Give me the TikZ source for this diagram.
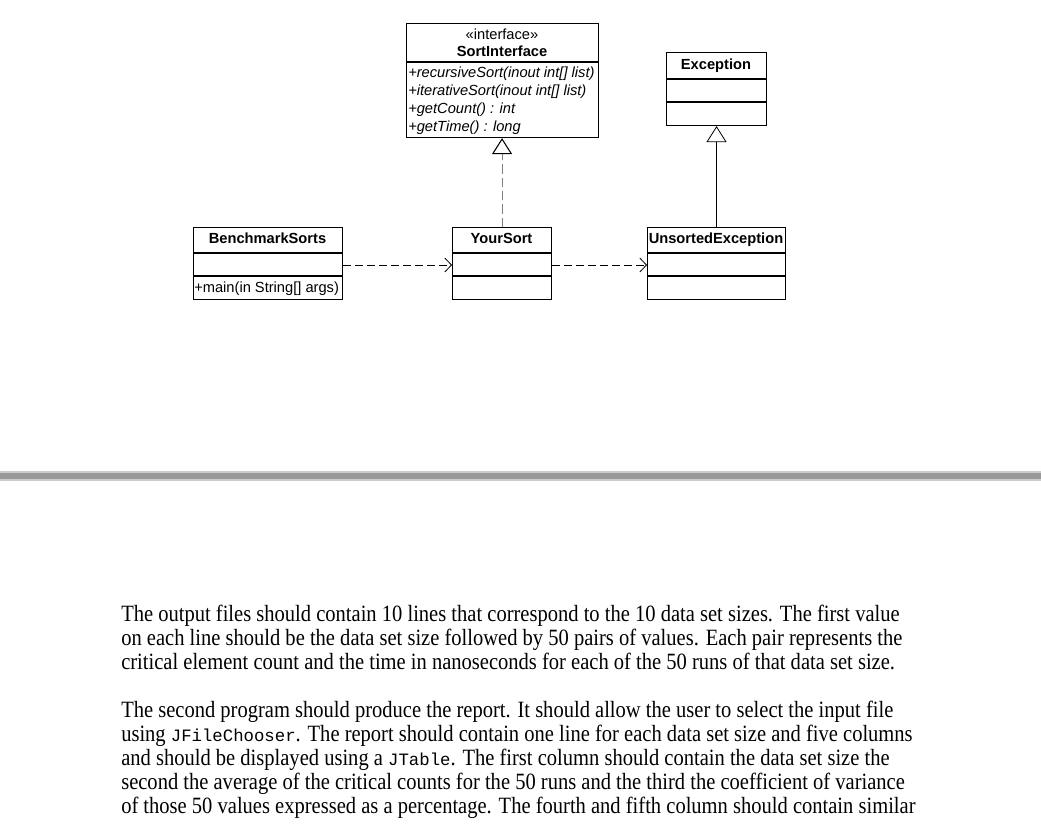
\documentclass[tikz,border=0pt]{standalone}
\usepackage{fontspec}
\setmainfont{Liberation Serif}[FakeStretch=0.88]
\setsansfont{Liberation Sans}
\setmonofont{Liberation Mono}
\usetikzlibrary{arrows.meta, calc}
\definecolor{barGray}{HTML}{999999}
\definecolor{barEdge}{HTML}{CCCCCC}
\definecolor{lineGray}{HTML}{808080}

\tikzset{
  classbox/.style={draw, line width=0.8pt, inner sep=0pt, anchor=north west},
  umlname/.style={font=\sffamily\bfseries\fontsize{11}{13}\selectfont, inner sep=0pt,
    text height=8.2pt, text depth=2.2pt},
  umlop/.style={font=\sffamily\fontsize{11}{13}\selectfont, inner sep=0pt, anchor=west,
    text height=8.2pt, text depth=2.2pt},
  depend/.style={dash pattern=on 6pt off 3pt, line width=0.6pt,
    -{Straight Barb[length=5pt, width=10.5pt]}},
  realize/.style={lineGray, dash pattern=on 7pt off 3pt, line width=0.8pt,
    -{Triangle[length=12pt, width=15pt, fill=white, color=black]}},
  inherit/.style={line width=0.6pt, -{Triangle[length=12pt, width=15pt, fill=white]}},
  bodyline/.style={anchor=base west, inner sep=0pt, font=\fontsize{17.5}{18}\selectfont}
}
\newcommand{\codeword}[1]{{\ttfamily\fontsize{13}{14}\selectfont #1}}

\begin{document}
\begin{tikzpicture}[x=0.75pt, y=-0.75pt]
  \useasboundingbox (0,0) rectangle (1041,825);

  % interface
  \node[classbox, minimum width=144pt, minimum height=85.5pt] (si) at (406,23) {};
  \node[umlop, anchor=center] (sist) at (502,35) {«interface»};
  \node[umlname] (siname) at (502,52) {SortInterface};
  \draw[line width=0.8pt] (si.north west) ++(0,39) -- ++(192,0);
  \node[umlop, font=\sffamily\itshape\fontsize{11}{13}\selectfont] (op1) at (408,73) {+recursiveSort(inout int[] list)};
  \node[umlop, font=\sffamily\itshape\fontsize{11}{13}\selectfont] (op2) at (408,91) {+iterativeSort(inout int[] list)};
  \node[umlop, font=\sffamily\itshape\fontsize{11}{13}\selectfont] (op3) at (408,109) {+getCount() : int};
  \node[umlop, font=\sffamily\itshape\fontsize{11}{13}\selectfont] (op4) at (408,127) {+getTime() : long};

  % Exception
  \node[classbox, minimum width=75pt, minimum height=54.75pt] (exc) at (666,52) {};
  \node[umlname] (excname) at (716,65) {Exception};
  \draw[line width=0.8pt] (exc.north west) ++(0,27) -- ++(100,0);
  \draw[line width=0.8pt] (exc.north west) ++(0,50) -- ++(100,0);

  % BenchmarkSorts
  \node[classbox, minimum width=111.75pt, minimum height=54pt] (bench) at (193,227) {};
  \node[umlname] (benchname) at (267.5,239) {BenchmarkSorts};
  \draw[line width=0.8pt] (bench.north west) ++(0,26) -- ++(149,0);
  \draw[line width=0.8pt] (bench.north west) ++(0,49) -- ++(149,0);
  \node[umlop] (mainop) at (194,288) {+main(in String[] args)};

  % YourSort
  \node[classbox, minimum width=74.25pt, minimum height=54pt] (your) at (452,227) {};
  \node[umlname] (yourname) at (501.5,239) {YourSort};
  \draw[line width=0.8pt] (your.north west) ++(0,26) -- ++(99,0);
  \draw[line width=0.8pt] (your.north west) ++(0,49) -- ++(99,0);

  % UnsortedException
  \node[classbox, minimum width=103.5pt, minimum height=54pt] (unsorted) at (647,227) {};
  \node[umlname] (unsname) at (716,239) {UnsortedException};
  \draw[line width=0.8pt] (unsorted.north west) ++(0,26) -- ++(138,0);
  \draw[line width=0.8pt] (unsorted.north west) ++(0,49) -- ++(138,0);

  % relations
  \draw[depend] (bench.east |- 0,265) -- (your.west |- 0,265);
  \draw[depend] (your.east |- 0,265) -- (unsorted.west |- 0,265);
  \draw[realize] (your.north) -- (si.south -| your.north);
  \draw[inherit] (unsorted.north -| exc.south) -- (exc.south);

  % separator bar
  \fill[barEdge] (0,471) rectangle (1041,481);
  \fill[barGray] (0,473) rectangle (1041,479);

  % body text
  \node[bodyline] (l1) at (121,621) {The output files should contain 10 lines that correspond to the 10 data set sizes. The first value};
  \node[bodyline] (l2) at (121,645) {on each line should be the data set size followed by 50 pairs of values. Each pair represents the};
  \node[bodyline] (l3) at (121,669) {critical element count and the time in nanoseconds for each of the 50 runs of that data set size.};
  \node[bodyline] (l4) at (121,717) {The second program should produce the report. It should allow the user to select the input file};
  \node[bodyline] (l5) at (121,741) {using \codeword{JFileChooser}. The report should contain one line for each data set size and five columns};
  \node[bodyline] (l6) at (121,765) {and should be displayed using a \codeword{JTable}. The first column should contain the data set size the};
  \node[bodyline] (l7) at (121,789) {second the average of the critical counts for the 50 runs and the third the coefficient of variance};
  \node[bodyline] (l8) at (121,813) {of those 50 values expressed as a percentage. The fourth and fifth column should contain similar};
\end{tikzpicture}
\end{document}
